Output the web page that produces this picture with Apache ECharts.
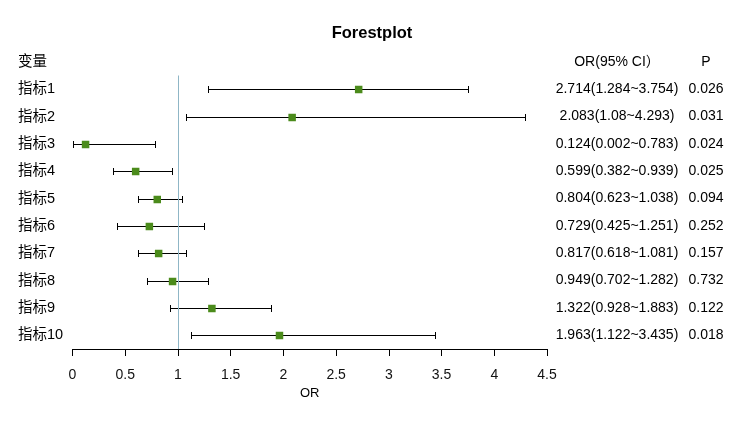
<!DOCTYPE html>
<html>
<head>
<meta charset="utf-8">
<script src="https://cdn.jsdelivr.net/npm/echarts@6/dist/echarts.min.js"></script>
<style>
html,body{margin:0;padding:0;background:#fff;}
#c{width:744px;height:425px;}
</style>
</head>
<body>
<div id="c"></div>
<script>
const categories = ['指标1','指标2','指标3','指标4','指标5','指标6','指标7','指标8','指标9','指标10'];
const orValues = [2.714, 2.083, 0.124, 0.599, 0.804, 0.729, 0.817, 0.949, 1.322, 1.963];
const ciLow   = [1.284, 1.08, 0.002, 0.382, 0.623, 0.425, 0.618, 0.702, 0.928, 1.122];
const ciHigh  = [3.754, 4.293, 0.783, 0.939, 1.038, 1.251, 1.081, 1.282, 1.883, 3.435];
const pValues = ['0.026','0.031','0.024','0.025','0.094','0.252','0.157','0.732','0.122','0.018'];
const xTicks = { min: 0, max: 4.5, interval: 0.5 };

const FONT = "'Liberation Sans', Arial, 'Noto Sans CJK SC', sans-serif";
const chart = echarts.init(document.getElementById('c'));

const orText = categories.map((c, i) => orValues[i] + '(' + ciLow[i] + '~' + ciHigh[i] + ')');
const rightLabels = categories.map((c, i) => '{a|' + orText[i] + '}{b|' + pValues[i] + '}');

const data = categories.map((c, i) => [ciLow[i], ciHigh[i], orValues[i], i]);

chart.setOption({
  animation: false,
  backgroundColor: '#fff',
  title: {
    text: 'Forestplot', left: 'center', top: 20,
    textStyle: { fontFamily: FONT, fontSize: 16.5, fontWeight: 'bold', color: '#000' }
  },
  graphic: [
    { type: 'text', left: 18, top: 55, style: { text: '变量', font: "14.5px " + FONT, fill: '#000' } },
    { type: 'text', x: 617, y: 62, style: { text: 'OR(95% CI）', font: "14px " + FONT, fill: '#000', align: 'center', verticalAlign: 'middle' } },
    { type: 'text', x: 706, y: 62, style: { text: 'P', font: "14px " + FONT, fill: '#000', align: 'center', verticalAlign: 'middle' } }
  ],
  grid: { left: 72.5, right: 197, top: 75.5, bottom: 76 },
  xAxis: {
    type: 'value', min: xTicks.min, max: xTicks.max, interval: xTicks.interval,
    name: 'OR', nameLocation: 'middle', nameGap: 36,
    nameTextStyle: { fontFamily: FONT, fontSize: 13, color: '#000' },
    axisLine: { show: true, lineStyle: { color: '#000', width: 1 } },
    axisTick: { show: true, length: 7, lineStyle: { color: '#000' } },
    axisLabel: { fontFamily: FONT, fontSize: 14, color: '#111', margin: 19 },
    splitLine: { show: false }
  },
  yAxis: [
    {
      type: 'category', data: categories, inverse: true,
      axisLine: { show: false }, axisTick: { show: false }, splitLine: { show: false },
      axisLabel: { align: 'left', margin: 54.5, fontFamily: FONT, fontSize: 14.5, color: '#000' }
    },
    {
      type: 'category', data: rightLabels, inverse: true, position: 'right',
      axisLine: { show: false }, axisTick: { show: false }, splitLine: { show: false },
      axisLabel: {
        align: 'left', margin: 5, fontFamily: FONT, fontSize: 14, color: '#000',
        rich: {
          a: { width: 130, align: 'center', fontFamily: FONT, fontSize: 14, color: '#000' },
          b: { width: 48, align: 'center', fontFamily: FONT, fontSize: 14, color: '#000' }
        }
      }
    }
  ],
  series: [{
    type: 'custom',
    data: data,
    renderItem: function (params, api) {
      const row = api.value(3);
      const lo = api.coord([api.value(0), row]);
      const hi = api.coord([api.value(1), row]);
      const mid = api.coord([api.value(2), row]);
      const y = Math.round(lo[1]) + 0.5;
      const xl = Math.round(lo[0]) + 0.5;
      const xh = Math.round(hi[0]) + 0.5;
      const cap = 3.5;
      const s = 7.5;
      const ls = { stroke: '#000', lineWidth: 1 };
      return {
        type: 'group',
        children: [
          { type: 'line', shape: { x1: xl, y1: y, x2: xh, y2: y }, style: ls },
          { type: 'line', shape: { x1: xl, y1: y - cap, x2: xl, y2: y + cap }, style: ls },
          { type: 'line', shape: { x1: xh, y1: y - cap, x2: xh, y2: y + cap }, style: ls },
          { type: 'rect', shape: { x: mid[0] - s / 2, y: y - s / 2, width: s, height: s }, style: { fill: '#4b8b1b' } }
        ]
      };
    },
    markLine: {
      silent: true, symbol: 'none', label: { show: false },
      lineStyle: { color: '#8fb6c6', width: 1, type: 'solid' },
      data: [{ xAxis: 1 }]
    },
    z: 3
  }]
});
</script>
</body>
</html>
